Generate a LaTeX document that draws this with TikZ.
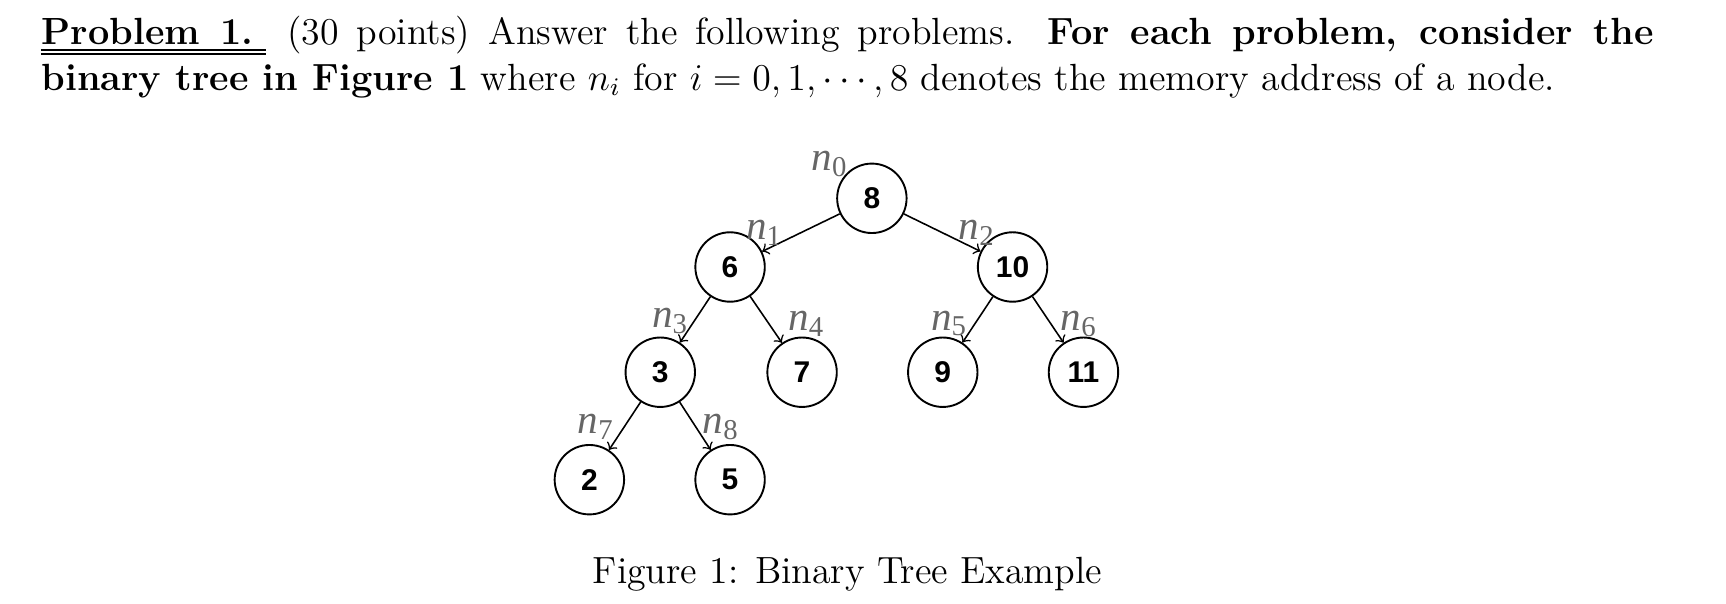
\documentclass[tikz,border=0pt,12pt]{standalone}
\usepackage{fontspec}
\newfontfamily\nodefont{Liberation Sans}
\newfontfamily\labfont{Liberation Serif}
\begin{document}
\begin{tikzpicture}[x=0.351pt,y=-0.351pt,
  tn/.style={circle,draw,line width=0.6pt,minimum size=22pt,inner sep=0pt,font=\nodefont\bfseries\fontsize{9.5}{11}\selectfont},
  lab/.style={text=black!60,inner sep=0pt,font=\labfont\fontsize{13}{15}\selectfont\itshape},
  edge/.style={->,>=to,line width=0.5pt}]
\useasboundingbox (0,0) rectangle (1558,545);
\node[anchor=north west,inner sep=0pt,text width=1455*0.351pt,align=justify] (title) at (37,14)
 {\textbf{Problem 1.} (30 points) Answer the following problems. \textbf{For each problem, consider the\linebreak binary tree in Figure 1} where $n_i$ for $i=0,1,\cdots,8$ denotes the memory address of a node.};
\draw[line width=0.5pt] (37,45) -- (240,45) (37,49) -- (240,49);
\node[tn] (a) at (787,179) {8};
\node[tn] (b) at (659,241) {6};
\node[tn] (c) at (914,241) {10};
\node[tn] (d) at (596,336) {3};
\node[tn] (e) at (724,336) {7};
\node[tn] (f) at (851,336) {9};
\node[tn] (g) at (978,336) {11};
\node[tn] (h) at (532,433) {2};
\node[tn] (i) at (659,433) {5};
\draw[edge] (a) -- (b); \draw[edge] (a) -- (c);
\draw[edge] (b) -- (d); \draw[edge] (b) -- (e);
\draw[edge] (c) -- (f); \draw[edge] (c) -- (g);
\draw[edge] (d) -- (h); \draw[edge] (d) -- (i);
\node[lab] (l0) at (749,148) {n\textsubscript{\upshape 0}};
\node[lab] (l1) at (690,210) {n\textsubscript{\upshape 1}};
\node[lab] (l2) at (882,210) {n\textsubscript{\upshape 2}};
\node[lab] (l3) at (605,290) {n\textsubscript{\upshape 3}};
\node[lab] (l4) at (728,292) {n\textsubscript{\upshape 4}};
\node[lab] (l5) at (857,292) {n\textsubscript{\upshape 5}};
\node[lab] (l6) at (974,292) {n\textsubscript{\upshape 6}};
\node[lab] (l7) at (538,385) {n\textsubscript{\upshape 7}};
\node[lab] (l8) at (651,385) {n\textsubscript{\upshape 8}};
\node (cap) at (765,518) {Figure 1: Binary Tree Example};
\end{tikzpicture}
\end{document}
